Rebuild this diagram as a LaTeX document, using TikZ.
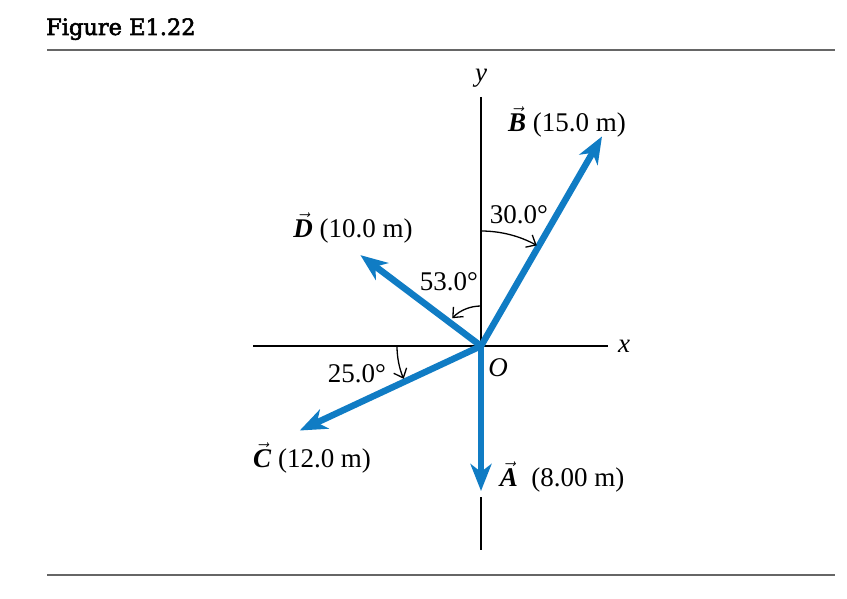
\documentclass[tikz,border=0pt]{standalone}
\usepackage{fontspec}
\setmainfont{Liberation Serif}
\newfontfamily\titlefont[FakeBold=2.5]{DejaVu Serif}
\usetikzlibrary{arrows.meta,calc}
\definecolor{vecblue}{RGB}{16,124,196}
\newcommand{\vlet}[1]{$\vec{\mbox{\textbf{\textit{#1}}}}$}
\begin{document}
\begin{tikzpicture}[x=1pt,y=1pt,
 vec/.style={line width=6.5pt, vecblue, -{Stealth[length=27pt,width=21pt,inset=8pt]}},
 axis/.style={line width=1.4pt, black},
 rule/.style={line width=1.5pt, black!60},
 angarc/.style={line width=1.3pt, -{Straight Barb[length=8pt,width=14pt]}},
 lbl/.style={font=\fontsize{27}{32}\selectfont, inner sep=0pt},
 ]
\useasboundingbox (0,0) rectangle (847,598);
% title and rules
\node[anchor=base west, inner sep=0pt, font=\titlefont\fontsize{22.5}{27}\selectfont] (title) at (46,563) {Figure E1.22};
\coordinate (r1a) at (47,548); \coordinate (r1b) at (835,548);
\coordinate (r2a) at (47,23); \coordinate (r2b) at (835,23);
\draw[rule] (r1a) -- (r1b);
\draw[rule] (r2a) -- (r2b);
% axes
\coordinate (O) at (481,252);
\coordinate (xl) at (253,252); \coordinate (xr) at (608,252);
\coordinate (yt) at (481,501); \coordinate (yb1) at (481,101); \coordinate (yb2) at (481,48);
\draw[axis] (xl) -- (xr);
\draw[axis] (yt) -- (O);
\draw[axis] (yb1) -- (yb2);
% vector tips
\coordinate (Bt) at ($(O)+(60:242)$);
\coordinate (At) at ($(O)+(270:145)$);
\coordinate (Ct) at ($(O)+(205:200)$);
\coordinate (Dt) at ($(O)+(143:151)$);
\draw[vec] (O) -- (Bt);
\draw[vec] (O) -- (At);
\draw[vec] (O) -- (Ct);
\draw[vec] (O) -- (Dt);
% angle arcs
\coordinate (a30) at ($(O)+(90:115)$);
\coordinate (a53) at ($(O)+(90:40)$);
\coordinate (a25) at ($(O)+(180:84)$);
\draw[angarc] (a30) arc[start angle=90, end angle=61, radius=115];
\draw[angarc] (a53) arc[start angle=90, end angle=136, radius=40];
\draw[angarc] (a25) arc[start angle=180, end angle=203, radius=84];
% labels
\node[lbl] (ylab) at (481,520) {\textit{y}};
\node[lbl] (xlab) at (624,252) {\textit{x}};
\node[lbl] (Olab) at (498,230) {\textit{O}};
\node[lbl] (Blab) at (567,476) {\vlet{B} (15.0 m)};
\node[lbl] (Dlab) at (353,370) {\vlet{D} (10.0 m)};
\node[lbl] (Clab) at (312,140) {\vlet{C} (12.0 m)};
\node[lbl] (Alab) at (562,121) {\vlet{A}\ \ (8.00 m)};
\node[lbl] (l30) at (519,383) {30.0°};
\node[lbl] (l53) at (449,316) {53.0°};
\node[lbl] (l25) at (357,224) {25.0°};
\end{tikzpicture}
\end{document}
